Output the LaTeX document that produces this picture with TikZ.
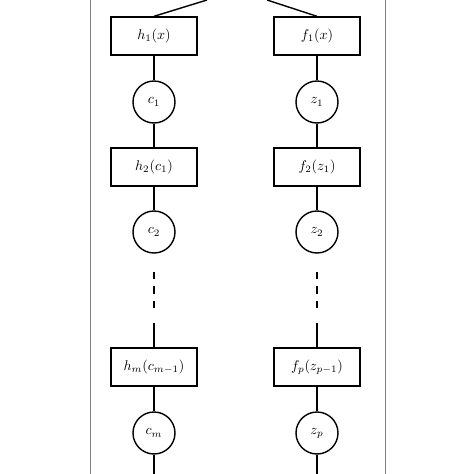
\documentclass[tikz,border=0pt]{standalone}
\usetikzlibrary{positioning}

\newcommand{\leftCol}{3.85}
\newcommand{\rightCol}{7.925}
\newcommand{\frameL}{2.25}
\newcommand{\frameR}{9.625}

\tikzset{
  fbox/.style={draw, line width=1pt, minimum width=2.15cm, minimum height=0.95cm, inner sep=0pt},
  var/.style={draw, circle, line width=1pt, minimum size=1.05cm, inner sep=0pt},
  link/.style={line width=1pt, black},
  skip/.style={line width=1pt, black, dash pattern=on 0.18cm off 0.18cm}
}

\begin{document}
\begin{tikzpicture}
  \useasboundingbox (0,0) rectangle (11.85,-11.85);

  % Outer frame:
  \draw[gray, line width=0.4pt] (\frameL, 0) -- (\frameL, -11.85);
  \draw[gray, line width=0.4pt] (\frameR, 0) -- (\frameR, -11.85);

  % Left chain:
  \node[fbox] (h1) at (\leftCol, -0.9)   {$h_1(x)$};
  \node[var]  (c1) at (\leftCol, -2.55)  {$c_1$};
  \node[fbox] (h2) at (\leftCol, -4.175) {$h_2(c_1)$};
  \node[var]  (c2) at (\leftCol, -5.8)   {$c_2$};
  \node[fbox] (hm) at (\leftCol, -9.175) {$h_m(c_{m-1})$};
  \node[var]  (cm) at (\leftCol, -10.825) {$c_m$};

  % Right chain:
  \node[fbox] (f1) at (\rightCol, -0.9)   {$f_1(x)$};
  \node[var]  (z1) at (\rightCol, -2.55)  {$z_1$};
  \node[fbox] (f2) at (\rightCol, -4.175) {$f_2(z_1)$};
  \node[var]  (z2) at (\rightCol, -5.8)   {$z_2$};
  \node[fbox] (fp) at (\rightCol, -9.175) {$f_p(z_{p-1})$};
  \node[var]  (zp) at (\rightCol, -10.825) {$z_p$};

  % Loose ends:
  \coordinate (inL)  at (5.175, 0);
  \coordinate (inR)  at (6.675, 0);
  \coordinate (dsL)  at (\leftCol, -6.8);
  \coordinate (deL)  at (\leftCol, -7.7);
  \coordinate (slL)  at (\leftCol, -8.075);
  \coordinate (dsR)  at (\rightCol, -6.8);
  \coordinate (deR)  at (\rightCol, -7.7);
  \coordinate (slR)  at (\rightCol, -8.075);
  \coordinate (outL) at (\leftCol, -11.85);
  \coordinate (outR) at (\rightCol, -11.85);

  % Connectors:
  \draw[link] (inL) -- (h1.north);
  \draw[link] (inR) -- (f1.north);
  \draw[link] (h1) -- (c1) -- (h2) -- (c2);
  \draw[link] (f1) -- (z1) -- (f2) -- (z2);
  \draw[skip] (dsL) -- (deL);
  \draw[skip] (dsR) -- (deR);
  \draw[link] (slL) -- (hm);
  \draw[link] (slR) -- (fp);
  \draw[link] (hm) -- (cm) -- (outL);
  \draw[link] (fp) -- (zp) -- (outR);

\end{tikzpicture}
\end{document}
